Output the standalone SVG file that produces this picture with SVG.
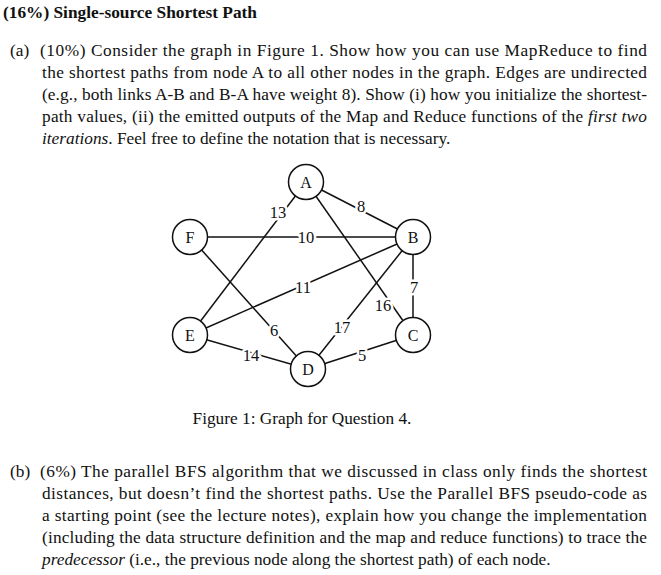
<svg xmlns="http://www.w3.org/2000/svg" width="661" height="575" viewBox="0 0 661 575">
<style>
.t{font-family:"Liberation Serif","Times New Roman",serif;font-size:17.3px;fill:#111}
.b{font-weight:bold}
.i{font-style:italic}
.edge{stroke:#111;stroke-width:1.5;fill:none}
.node circle{fill:#fff;stroke:#111;stroke-width:1.5}
.nl{font-family:"Liberation Serif","Times New Roman",serif;font-size:16px;fill:#111;text-anchor:middle}
.el{font-family:"Liberation Serif","Times New Roman",serif;font-size:16.5px;fill:#111;text-anchor:middle;stroke:#fff;stroke-width:5;paint-order:stroke;stroke-linejoin:round}
</style>
<rect width="661" height="575" fill="#fff"/>
<text class="t b" x="3" y="18" textLength="254" lengthAdjust="spacingAndGlyphs">(16%) Single-source Shortest Path</text>
<g id="part-a">
<text class="t" x="10" y="55.5">(a)</text>
<text class="t" x="40" y="55.5" textLength="607" lengthAdjust="spacing">(10%) Consider the graph in Figure 1.  Show how you can use MapReduce to find</text>
<text class="t" x="42" y="77.7" textLength="605" lengthAdjust="spacing">the shortest paths from node A to all other nodes in the graph.  Edges are undirected</text>
<text class="t" x="42" y="99.9" textLength="605" lengthAdjust="spacing">(e.g., both links A-B and B-A have weight 8). Show (i) how you initialize the shortest-</text>
<text class="t" x="42" y="122.1" textLength="605" lengthAdjust="spacing">path values, (ii) the emitted outputs of the Map and Reduce functions of the <tspan class="i">first two</tspan></text>
<text class="t" x="42" y="144.3"><tspan class="i">iterations</tspan>. Feel free to define the notation that is necessary.</text>
</g>
<g id="connectors">
<line class="edge" x1="306" y1="182" x2="413" y2="237"/>
<line class="edge" x1="306" y1="182" x2="190" y2="335"/>
<line class="edge" x1="306" y1="182" x2="413" y2="335"/>
<line class="edge" x1="190" y1="237" x2="413" y2="237"/>
<line class="edge" x1="190" y1="237" x2="308" y2="369"/>
<line class="edge" x1="190" y1="335" x2="413" y2="237"/>
<line class="edge" x1="190" y1="335" x2="308" y2="369"/>
<line class="edge" x1="413" y1="237" x2="413" y2="335"/>
<line class="edge" x1="413" y1="237" x2="308" y2="369"/>
<line class="edge" x1="308" y1="369" x2="413" y2="335"/>
<text class="el" x="361" y="211.5">8</text>
<text class="el" x="278" y="217.5">13</text>
<text class="el" x="306" y="243">10</text>
<text class="el" x="303" y="292.5">11</text>
<text class="el" x="383" y="310.5">16</text>
<text class="el" x="414" y="292.5">7</text>
<text class="el" x="274" y="335.5">6</text>
<text class="el" x="342" y="332.5">17</text>
<text class="el" x="251" y="360.5">14</text>
<text class="el" x="362" y="360.5">5</text>
</g>
<g id="node-A" class="node"><circle cx="306" cy="182" r="17.5"/><text class="nl" x="306" y="187.5">A</text></g>
<g id="node-F" class="node"><circle cx="190" cy="237" r="17.5"/><text class="nl" x="190" y="242.5">F</text></g>
<g id="node-B" class="node"><circle cx="413" cy="237" r="17.5"/><text class="nl" x="413" y="242.5">B</text></g>
<g id="node-E" class="node"><circle cx="190" cy="335" r="17.5"/><text class="nl" x="190" y="340.5">E</text></g>
<g id="node-C" class="node"><circle cx="413" cy="335" r="17.5"/><text class="nl" x="413" y="340.5">C</text></g>
<g id="node-D" class="node"><circle cx="308" cy="369" r="17.5"/><text class="nl" x="308" y="374.5">D</text></g>
<text class="t" x="302" y="424" text-anchor="middle">Figure 1: Graph for Question 4.</text>
<g id="part-b">
<text class="t" x="10" y="476.5">(b)</text>
<text class="t" x="40" y="476.5" textLength="607" lengthAdjust="spacing">(6%) The parallel BFS algorithm that we discussed in class only finds the shortest</text>
<text class="t" x="42" y="498.7" textLength="605" lengthAdjust="spacing">distances, but doesn’t find the shortest paths.  Use the Parallel BFS pseudo-code as</text>
<text class="t" x="42" y="520.9" textLength="605" lengthAdjust="spacing">a starting point (see the lecture notes), explain how you change the implementation</text>
<text class="t" x="42" y="543.1" textLength="605" lengthAdjust="spacing">(including the data structure definition and the map and reduce functions) to trace the</text>
<text class="t" x="42" y="565.3"><tspan class="i">predecessor</tspan> (i.e., the previous node along the shortest path) of each node.</text>
</g>
</svg>
